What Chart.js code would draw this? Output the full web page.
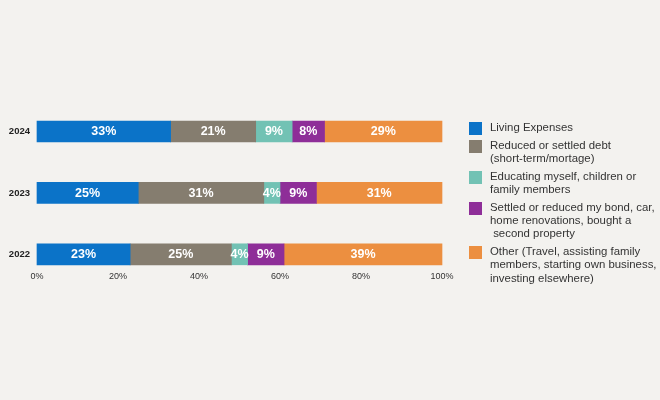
<!DOCTYPE html>
<html>
<head>
<meta charset="utf-8">
<script src="https://cdn.jsdelivr.net/npm/chart.js@4/dist/chart.umd.min.js"></script>
<style>
  html, body { margin: 0; padding: 0; background: #f3f2ef; }
  #wrap { position: relative; width: 660px; height: 400px; background: #f3f2ef; }
  #legend { position: absolute; left: 469px; top: 121px; font-family: "Liberation Sans", Arial, Helvetica, sans-serif; font-size: 11.4px; color: #333; }
  .item { display: flex; align-items: flex-start; margin-bottom: 4px; }
  .sw { width: 13px; height: 13px; margin-right: 8px; margin-top: 1px; flex: none; }
  .txt { line-height: 13.4px; white-space: pre; }
</style>
</head>
<body>
<div id="wrap">
  <canvas id="c" width="660" height="400"></canvas>
  <div id="legend"></div>
</div>
<script>
const years = ["2024", "2023", "2022"];
const seriesNames = [
  "Living Expenses",
  "Reduced or settled debt\n(short-term/mortage)",
  "Educating myself, children or\nfamily members",
  "Settled or reduced my bond, car,\nhome renovations, bought a\n second property",
  "Other (Travel, assisting family\nmembers, starting own business,\ninvesting elsewhere)"
];
const livingExpenses = [33, 25, 23];
const reducedDebt = [21, 31, 25];
const educating = [9, 4, 4];
const settledBond = [8, 9, 9];
const other = [29, 31, 39];
const xTicks = [0, 20, 40, 60, 80, 100];
const colors = ["#0b73c8", "#857d6f", "#72c2b4", "#8e2e98", "#ec8f40"];

const seriesValues = [livingExpenses, reducedDebt, educating, settledBond, other];
const FONT = '"Liberation Sans", Arial, Helvetica, sans-serif';

const labelPlugin = {
  id: 'segLabels',
  afterDatasetsDraw(chart) {
    const ctx = chart.ctx;
    ctx.save();
    ctx.fillStyle = '#ffffff';
    ctx.font = 'bold 12.5px ' + FONT;
    ctx.textAlign = 'center';
    ctx.textBaseline = 'middle';
    chart.data.datasets.forEach((ds, i) => {
      const meta = chart.getDatasetMeta(i);
      meta.data.forEach((el, j) => {
        const p = el.getCenterPoint();
        ctx.fillText(ds.data[j] + '%', p.x, p.y + 0.5);
      });
    });
    ctx.restore();
  }
};

new Chart(document.getElementById('c'), {
  type: 'bar',
  data: {
    labels: years,
    datasets: seriesValues.map((vals, i) => ({
      label: seriesNames[i],
      data: vals,
      backgroundColor: colors[i],
      borderWidth: 0,
      barThickness: 21,
      clip: false
    }))
  },
  options: {
    indexAxis: 'y',
    responsive: false,
    animation: false,
    layout: { padding: { top: 131.5, right: 218, left: 0, bottom: 0 } },
    plugins: { legend: { display: false }, tooltip: { enabled: false } },
    scales: {
      x: {
        stacked: true,
        min: 0, max: 100,
        afterBuildTicks(scale) { scale.ticks = xTicks.map(v => ({ value: v })); },
        ticks: {
          callback: v => v + '%',
          font: { family: FONT, size: 9 },
          color: '#333',
          padding: 16.5,
          maxRotation: 0
        },
        grid: { display: false, drawTicks: false },
        border: { display: false },
        afterFit(scale) { scale.height = 400 - 254.3; }
      },
      y: {
        stacked: true,
        offset: false,
        ticks: {
          font: { family: FONT, size: 9.5, weight: 'bold' },
          color: '#222',
          padding: 7
        },
        grid: { display: false, drawTicks: false },
        border: { display: false },
        afterFit(scale) { scale.width = 37; }
      }
    }
  },
  plugins: [labelPlugin]
});

const legend = document.getElementById('legend');
seriesNames.forEach((name, i) => {
  const item = document.createElement('div');
  item.className = 'item';
  const sw = document.createElement('div');
  sw.className = 'sw';
  sw.style.background = colors[i];
  const t = document.createElement('div');
  t.className = 'txt';
  t.textContent = name;
  item.appendChild(sw);
  item.appendChild(t);
  legend.appendChild(item);
});
</script>
</body>
</html>
